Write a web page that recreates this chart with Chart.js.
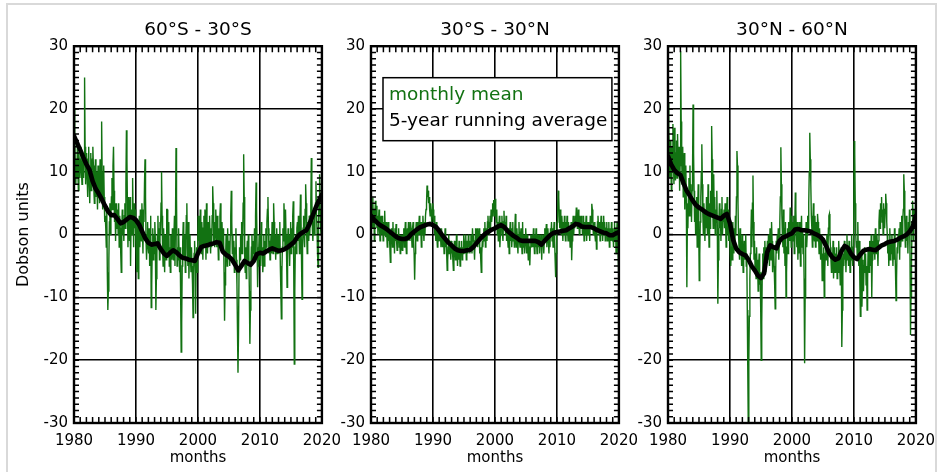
<!DOCTYPE html>
<html><head><meta charset="utf-8">
<script src="https://cdn.jsdelivr.net/npm/chart.js@4.4.0/dist/chart.umd.min.js"></script>
<style>
html,body{margin:0;padding:0;background:#fff;}
body{width:940px;height:472px;position:relative;overflow:hidden;}
#frame{position:absolute;left:6px;top:3px;width:931px;height:480px;border:2px solid #d9d9d9;box-sizing:border-box;}
canvas{position:absolute;top:0;}
</style></head><body>
<div id="frame"></div>
<canvas id="c0" width="350" height="472" style="left:0px"></canvas>
<canvas id="c1" width="350" height="472" style="left:297px"></canvas>
<canvas id="c2" width="350" height="472" style="left:594px"></canvas>
<script>
// ---------- data ----------
const panelTitles = ['60°S - 30°S', '30°S - 30°N', '30°N - 60°N'];
const seriesNames = ['monthly mean', '5-year running average'];
const xTickLabels = [1980, 1990, 2000, 2010, 2020];
const yTickLabels = [-30, -20, -10, 0, 10, 20, 30];
const xAxisTitle = 'months';
const yAxisTitle = 'Dobson units';
const firstYear = 1980;

// monthly means, Jan 1980 .. Dec 2019 (12 values per row = one year)
const monthlySouth = [
20,16,11,8,12,9,14,10,7,13,11,9,
12,14,10,8,11,13,9,12,25,14,8,11,
13,9,6,12,14,8,5,10,13,7,9,12,
14,11,7,5,9,12,6,10,8,4,11,7,
9,5,12,8,6,18,10,4,7,11,6,2,
3,1,-2,4,-6,-12,-9,-4,2,5,0,3,
6,9,4,11,14,7,2,5,-1,3,5,1,
4,0,5,-2,3,1,-3,-6,1,4,0,2,
-1,3,5,1,8,16.6,12,4,-2,6,3,-1,
6,-5,2,4,0,9,3,-2,5,1,4,0,
-3,-6,2,0,-7,1,3,-2,4,0,-1,5,
1,-3,4,2,8,12,6,-1,-4,0,2,-2,
-3,1,-5,-2,3,-11.6,-8,-2,1,-4,0,-3,
2,-1,-12,-7,-3,0,3,-2,1,-4,2,0,
5,10,3,-2,-5,1,-3,-6,0,-2,-4,4,
4,-1,-3,2,-5,-2,-6,0,-3,-4,1,-2,
-4,0,3,-5,2,13.8,6,-5,-2,-4,1,-3,
-6,-2,-10,-18.7,-14,-5,-1,2,-4,-2,0,-6,
-1,3,5,-2,-5,2,-7,-3,0,-4,-6,-2,
-5,-8,-13.2,-6,-3,-1,-4,-12.6,-5,-2,-6,-1,
3,-1,1,-2,4,0,-3,2,-1,-4,1,3,
-2,4,1,-4,5,-1,-3,2,-2,0,3,-1,
-3,1,-2,3,7.7,5,-1,2,-2,0,4,1,
-2,3,0,-4,1,-1,3,5,0,-2,2,-1,
-3,1,-6,-13.7,-8,-4,0,-2,-5,1,-3,-1,
-2,-5,0,3,7,2,-3,0,-4,-1,-6,-2,
-3,1,-4,-8,-15,-22,-16,-6,-2,-4,0,-3,
2,-3,-1,5,12.8,6,-4,-6,-2,-7,-3,-1,
-5,0,-3,-9,-17.4,-12,-5,-2,0,-4,-1,-3,
-2,1,-4,3,8.3,4,-2,-8.4,-5,-3,0,-4,
-1,-5,2,-3,-2,-6,-4,0,-5,-1,-3,1,
-2,2,4,6,1,-3,-1,-4,-2,0,-3,2,
-1,-3,5,2,-2,0,-4,-1,1,-3,-2,0,
-3,-1,2,-5,-9,-13.4,-6,-2,1,-1,5,2,
-2,4,0,-3,-8.4,-4,1,-2,0,-5,-1,2,
-3,1,-2,3,5.3,-6,-20.6,-9,-2,0,-3,1,
2,-1,3,0,-3,2,6.4,3,-4,-10.3,-2,1,
3,0,-2,4,8,5,0,-3,2,1,-1,3,
0,3,5,12.2,6,1,-1,2,4,0,3,5,
8.5,3,1,-3,-5.2,2,6,9.6,4,1,0,9
];
const monthlyTropics = [
4.9,3,1,5.9,2,4,-1,3,5.4,2,4.6,1,
3,0,2,4,1,-1,2,3,0,1,3,-1,
2,0,3.8,1,-0.4,2,0,-2,1,2,-1,0,
-2,-4.4,-1,1,0,-2,2,-1,0,-3,1,-1,
1.7,-1,-2.5,0,-1,1,-2,0,-3,-1,0,-2,
-2.5,0,-1,1,-2,0,2,-1,-3,0,1,-1,
2,0,1,-1,2,1,0,-2,1,2,-1,-3,
-7.2,-3,0,2,1,-1,2,0,1,3,0,2,
1,-2,2,0,3,1,-1,2,0,3,4,5,
7.8,6,7,5,6,4,3,5,4,2,3,5,
4,2,3,0,1,-1,2,0,-2,1,-1,0,
1,-1,0,-2,1,0,-2,-1,0,-3,-1,1,
-2,-1,-3,-5.7,-4,-2,0,-3,-1,-2,-4,-1,
-3,-2,-4,-5.7,-3,-1,-2,-4,-3,0,-2,-5,
-2,-4,-1,-3,-5,-2,-3,-1,-4,-2,-3,0,
-1,-3,-2,0,-4,-2,-1,-3,0,-2,-1,-3,
-2,0,-1,-3,1,-1,0,-2,-4,-1,1,0,
-1,1,-2,0,-1,1,-3,-2,-4,-6,-3,-1,
-2,0,1,-1,2,-2,0,1,-1,2,3,1,
2,0,3,1,4,2,3,5,4,5.5,3,4,
5.7,3,2,4,0,2,-1,1,3,-2,0,2,
1,3,0,-1,2,3.8,1,2,0,3,-1,1,
-0.4,-2,1,-3,0,2,-1,1,-2,0,2,-1,
0,-2,1,3.3,0,-2,1,-1,-3,0,2,-1,
-2,0,1,-1,-3,2,-2,-1,0,-3,-1,1,
-1,-3,0,-2,-4,-1,-3,-4.9,-2,0,-1,-2,
0,-2,1,-1,-3,0,-2,1,-1,-3,0,-1,
-2,0,-3,-1,-2,0,-4,-1,-2,0,-3,-1,
1,-1,0,1.7,-2,0,1,-1,-3,0,-2,1,
0,2,-1,1,-2,0,2,-1,-4,-6.8,-3,0,
2,4,7,6,3,1,4,2,0,3,1,-1,
2,0,3,1,-1,2,0,3,1,-1,2,0,
1,-2,0,2,-4.1,-1,1,3,0,2,1,3,
2,4.3,3,1,2,4,2,0,3,1,2,3,
2.2,0,1,3,-1,2,0,1,3,-1,2,1,
0,2,1,-1,3,1,2,4.9,4,2,0,1,
2,0,-1,1,-2.3,0,2,3,1,0,2,-1,
1,3,0,2,-1,1,3,0,2,-1,0,1,
2,-1,1,0,2,-2,0,1,-1,2,0,-1,
1,-2,0,2,-1,1,-3,0,2,-1,-3,-6.2
];
const monthlyNorth = [
21,17,13,9,15,11,7,14,10,17.6,12,8,
17,11,8.6,13,15,9,16,12,10,14,7,11,
29.2,18,12,8,14,6,10,13,4,9,11,5,
-8.4,2,1,6,9,3,11,5,8,2,7,10,
20.7,13,7,2,5,0,3,6,-2,4,8,1,
-7.3,-3,2,6,10,14.4,8,3,0,5,2,-1,
4,1,6,2,0,8,3,-2,5,1,7,3,
17.3,12,5,1,9.6,3,6,0,4,2,7,1,
-11,-4,2,5,1,3,-1,4,6,0,3,2,
4,1,5,2,-2,3,6,0,4,-1,2,1,
-3,-5,-2,0,-4,2,-1,-3,1,-2,3,0,
6,13.3,11,5,0,-2,-4,1,-3,-1,-5,0,
-2,-6,-3,-1,-4,-2,0,-5,-3,-12,-22,-31,
-20,-13,-7,-3,0,4,-2,5,9.4,2,-4,-1,
-5,-3,-7,-2,-6,-4,-9,-5,-3,-8,-6,-12,
-20,-14,-6,-3,-7,-2,-5,-1,-4,-6,-2,-3,
-1,-4,0,-3,-5,1,-2,-4,2,-1,-6,-3,
-2,-5,-8,-11.8,-6,-1,-3,0,-2,1,-4,-1,
2,6,13.9,8,3,0,-2,4,-3,1,-5,2,
-10,-6,-2,1,-3,2,0,-1,4.3,1,-2,3,
-1,2,0,3,-3,1,6.7,4,0,-2,2,-4,
1,-3,2,-1,-5,0,3,-2,1,-3,0,-7,
-20.5,-10,-1,2,-2,0,3,1,5,10,16.2,12,
8,3,1,-2,2,5,0,-1,3,-2,1,2,
-1,3.3,2,0,-3,1,-2,-4,0,-1,-7.3,-3,
-5,-2,-10,-6,-3,-1,-4,0,-2,-5,1,3,
3.3,0,-2,-4,-6,-3,-5,-1,-7,-4,-2,-6,
-3,-5,-2,-7,-4,-6,-1,-3,-5,-8,-4,-2,
-17.9,-12,-6,-3,-5,-1,-4,-2,-6,-3,0,-4,
-2,-5,-1,-3,-6,-2,-4,0,-3,-5,-2,1,
14.9,13,5,0,-2,-1,-4,2,-3,-5,-1,-8,
-13,-6,-3,-11.5,-7,-4,-9,-5,-2,-6,-3,-8,
-5,-12,-7,-2,-4,-6,-1,-3,-5,0,-10,-4,
-1,-3,0,-2,-4,1,-1,-3,0,-2,-5,-1,
2,4,1,5,3,6,2,4,0,5,3,1,
4,6.5,5,2,0,-3,-1,-5,-2,1,-4,-1,
-3,0,-2,-5,-1,-4,1,-2,-6,-10.5,-7,-2,
-3,0,-1,1,-4,2,-2,0,3,-1,2,4,
9.6,7,2,-2,0,3,-1,1,-3,2,0,4,
-3,-16,-10,-4,2,5.4,3,-1,4,1,3,5
];

// 5-year running average, every half year from 1980.0 to 2020.0
const runningSouth = [
15.7,14.6,13.5,12.3,11.2,10.3,8.5,7.3,6.5,5.6,
4.6,3.7,3.1,3.1,2.5,1.8,2.0,2.4,2.8,2.7,
2.3,1.6,0.5,-0.6,-1.3,-1.6,-1.5,-1.4,-2.3,-3.0,
-3.4,-2.9,-2.5,-2.8,-3.3,-3.7,-3.8,-4.0,-4.1,-4.2,
-3.0,-2.0,-1.8,-1.7,-1.5,-1.4,-1.2,-1.3,-2.7,-3.2,
-3.5,-4.0,-4.8,-5.7,-5.0,-4.2,-4.5,-4.8,-4.2,-3.1,
-2.9,-3.0,-2.7,-2.4,-2.2,-2.4,-2.6,-2.5,-2.3,-2.0,
-1.6,-1.2,-0.4,0.1,0.4,0.7,1.7,3.0,4.3,5.4,
6.4
];
const runningTropics = [
3.0,2.4,1.9,1.5,1.2,0.9,0.5,0.1,-0.3,-0.6,
-0.7,-0.7,-0.5,0.1,0.5,0.9,1.2,1.4,1.6,1.7,
1.5,1.2,0.6,-0.1,-0.7,-1.3,-1.7,-2.2,-2.5,-2.6,
-2.6,-2.5,-2.4,-2.0,-1.4,-0.8,-0.3,0.2,0.5,0.8,
1.0,1.3,1.5,1.2,0.6,0.2,-0.2,-0.5,-0.9,-1.0,
-1.0,-1.0,-1.0,-1.0,-1.2,-1.6,-1.0,-0.5,0.0,0.3,
0.4,0.5,0.6,0.7,1.0,1.3,1.7,1.6,1.3,1.2,
1.2,1.2,1.0,0.7,0.5,0.3,0.2,-0.1,-0.1,0.2,
0.4
];
const runningNorth = [
12.5,11.2,10.3,9.8,9.5,8.2,7.0,6.2,5.4,4.7,
4.3,4.0,3.6,3.3,3.1,2.9,2.7,2.5,3.0,3.3,
1.8,-0.8,-2.2,-2.8,-3.1,-3.3,-4.0,-5.0,-5.7,-6.5,
-6.9,-6.2,-2.8,-1.7,-2.0,-2.2,-1.0,-0.5,-0.3,0.0,
0.2,0.8,0.9,0.7,0.7,0.6,0.5,0.2,0.0,-0.3,
-0.8,-1.8,-2.9,-3.6,-4.0,-3.8,-2.6,-1.8,-2.1,-3.0,
-3.6,-3.9,-3.2,-2.6,-2.4,-2.3,-2.4,-2.5,-2.1,-1.7,
-1.5,-1.2,-1.1,-1.0,-0.8,-0.5,-0.3,0.0,0.5,1.3,
3.0
];

const monthlySeries = [monthlySouth, monthlyTropics, monthlyNorth];
const runningSeries = [runningSouth, runningTropics, runningNorth];

// ---------- styling ----------
const GREEN = 'rgb(18,114,18)';
Chart.defaults.font.family = "'DejaVu Sans', sans-serif";
Chart.defaults.color = '#000';

const monthlyPoints = arr => arr.map((v, i) => ({ x: firstYear + (i + 0.5) / 12, y: v }));
const runningPoints = arr => arr.map((v, i) => ({ x: firstYear + i * 0.5, y: v }));

const idlBox = {
  id: 'idlBox',
  afterDatasetsDraw(chart, args, opts) {
    const { ctx, chartArea: a, scales: { x, y } } = chart;
    ctx.save();
    ctx.strokeStyle = '#000';
    ctx.lineWidth = 1.5;
    ctx.beginPath();
    for (let yr = Math.ceil(x.min); yr <= x.max; yr++) {
      const px = x.getPixelForValue(yr);
      ctx.moveTo(px, a.top); ctx.lineTo(px, a.top + 6);
      ctx.moveTo(px, a.bottom); ctx.lineTo(px, a.bottom - 6);
    }
    for (let v = Math.ceil(y.min); v <= y.max; v++) {
      const py = y.getPixelForValue(v);
      ctx.moveTo(a.left, py); ctx.lineTo(a.left + 5, py);
      ctx.moveTo(a.right, py); ctx.lineTo(a.right - 5, py);
    }
    ctx.stroke();
    ctx.lineWidth = 2.4;
    ctx.strokeRect(a.left, a.top, a.right - a.left, a.bottom - a.top);

    if (opts && opts.legend) {
      const bx = a.left + 12, by = a.top + 31.5, bw = a.right - 7 - bx, bh = 63;
      ctx.fillStyle = '#fff';
      ctx.fillRect(bx, by, bw, bh);
      ctx.lineWidth = 1.5;
      ctx.strokeRect(bx, by, bw, bh);
      ctx.font = "18.5px 'DejaVu Sans', sans-serif";
      ctx.textAlign = 'left';
      ctx.textBaseline = 'alphabetic';
      chart.data.datasets.forEach((ds, i) => {
        ctx.fillStyle = ds.borderColor;
        ctx.fillText(ds.label, bx + 6, by + 22 + i * 26.5);
      });
    }
    ctx.restore();
  }
};

function makePanel(idx) {
  const canvas = document.getElementById('c' + idx);
  new Chart(canvas, {
    type: 'line',
    data: {
      datasets: [
        { label: seriesNames[0], data: monthlyPoints(monthlySeries[idx]), borderColor: GREEN,
          borderWidth: 1.4, pointRadius: 0, tension: 0, order: 2 },
        { label: seriesNames[1], data: runningPoints(runningSeries[idx]), borderColor: '#000',
          borderWidth: 4.6, pointRadius: 0, tension: 0, order: 1,
          borderJoinStyle: 'round', borderCapStyle: 'round' }
      ]
    },
    options: {
      responsive: false,
      animation: false,
      events: [],
      layout: { padding: { left: 0, right: 26, top: 0, bottom: 0 } },
      plugins: {
        legend: { display: false },
        tooltip: { enabled: false },
        title: { display: true, text: panelTitles[idx], fullSize: false, color: '#000',
          font: { size: 18.5, weight: 'normal' }, padding: { top: 19, bottom: 5 } },
        idlBox: { legend: idx === 1 }
      },
      scales: {
        x: {
          type: 'linear', min: xTickLabels[0], max: xTickLabels[xTickLabels.length - 1],
          afterBuildTicks: s => { s.ticks = xTickLabels.map(v => ({ value: v })); },
          afterFit: s => { s.height = 49; },
          ticks: { padding: 9, font: { size: 15 }, color: '#000', autoSkip: false, maxRotation: 0,
            callback: v => String(v) },
          grid: { color: '#000', lineWidth: 1.6, drawTicks: false },
          border: { display: false },
          title: { display: true, text: xAxisTitle, font: { size: 15 }, color: '#000',
            padding: { top: 0, bottom: 5 } }
        },
        y: {
          type: 'linear', min: yTickLabels[0], max: yTickLabels[yTickLabels.length - 1],
          afterBuildTicks: s => { s.ticks = yTickLabels.map(v => ({ value: v })); },
          afterFit: s => { s.width = 74; },
          ticks: { padding: 6, font: { size: 15 }, color: '#000', callback: v => String(v) },
          grid: { color: '#000', lineWidth: 1.6, drawTicks: false },
          border: { display: false },
          title: { display: idx === 0, text: yAxisTitle, font: { size: 16 }, color: '#000',
            padding: { top: 14, bottom: 0 } }
        }
      }
    },
    plugins: [idlBox]
  });
}
[0, 1, 2].forEach(makePanel);
</script>
</body></html>
